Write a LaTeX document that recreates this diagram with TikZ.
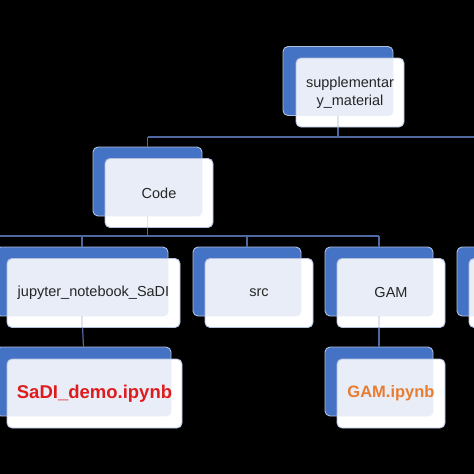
\documentclass[tikz,border=0pt]{standalone}
\usepackage{fontspec}
\setmainfont{Liberation Sans}
\begin{document}
\begin{tikzpicture}[x=1pt,y=-1pt,
  backbox/.style={draw=boxline, line width=0.9pt, fill=backblue, rounded corners=5pt, minimum height=69pt, inner sep=0pt},
  frontbox/.style={draw=boxline, line width=0.9pt, fill=white, rounded corners=5pt, minimum height=69pt, inner sep=0pt, font=\fontsize{14.5}{18}\selectfont, text=black!85, align=center,
    path picture={\fill[backblue, opacity=0.12, rounded corners=5pt] (#1.south west) rectangle (#1.north east);}},
  conn/.style={draw=connblue, line width=1.2pt},
  faint/.style={draw=connblue, line width=1.1pt, opacity=0.18}]
\definecolor{backblue}{RGB}{68,114,196}
\definecolor{boxline}{RGB}{178,192,222}
\definecolor{connblue}{RGB}{80,104,160}
\definecolor{sadired}{RGB}{222,28,30}
\definecolor{gamorange}{RGB}{232,125,50}
\useasboundingbox (0,0) rectangle (474,474);
\fill[black] (0,0) rectangle (474,474);
% bus coordinates
\coordinate (bus1) at (0,137);
\coordinate (bus2) at (0,236);
\coordinate (bus1r) at (474,137);
\coordinate (bus2l) at (0,236);
% back boxes
\node[backbox, minimum width=110pt] (supB) at (338,81) {};
\node[backbox, minimum width=109pt] (codeB) at (147.5,181.5) {};
\node[backbox, minimum width=172pt] (jupB) at (82,281.5) {};
\node[backbox, minimum width=108pt] (srcB) at (247,281.5) {};
\node[backbox, minimum width=108pt] (gamB) at (379,281.5) {};
\node[backbox, minimum width=108pt] (extB) at (511,281.5) {};
\node[backbox, minimum width=175pt] (sadiB) at (83.5,381.5) {};
\node[backbox, minimum width=108pt] (gamnbB) at (379,381.5) {};
% connectors
\draw[conn] (supB.south) -- (supB.south |- bus1);
\draw[conn] (codeB.north |- bus1) -- (bus1r);
\draw[conn] (codeB.north |- bus1) -- (codeB.north);
\draw[conn] (codeB.south) -- (codeB.south |- bus2);
\draw[conn] (bus2l) -- (gamB.north |- bus2);
\draw[conn] (jupB.north |- bus2) -- (jupB.north);
\draw[conn] (srcB.north |- bus2) -- (srcB.north);
\draw[conn] (gamB.north |- bus2) -- (gamB.north);
\draw[conn] (jupB.south) -- (sadiB.north);
\draw[conn] (gamB.south) -- (gamnbB.north);
% front boxes
\node[frontbox=supB, minimum width=108pt] (sup) at (350,92.5) {supplementar\\y\_material};
\node[frontbox=codeB, minimum width=108pt] (code) at (159,193) {Code};
\node[frontbox=jupB, minimum width=173pt] (jup) at (93.5,293) {jupyter\_notebook\_SaDI};
\node[frontbox=srcB, minimum width=108pt] (src) at (259,293) {src};
\node[frontbox=gamB, minimum width=108pt] (gam) at (391,293) {GAM};
\node[frontbox=extB, minimum width=108pt] (ext) at (523,293) {};
\node[frontbox=sadiB, minimum width=175pt, font=\fontsize{18.5}{20}\selectfont\bfseries, text=sadired] (sadi) at (94.5,393.5) {SaDI\_demo.ipynb};
\node[frontbox=gamnbB, minimum width=108pt, font=\fontsize{16.5}{20}\selectfont\bfseries, text=gamorange] (gamnb) at (391,393.5) {GAM.ipynb};
% faint connector traces seen through the front boxes
\draw[faint] (supB.south) -- (supB.south |- sup.south);
\draw[faint] (codeB.south) -- (codeB.south |- code.south);
\draw[faint] (jupB.south) -- (jupB.south |- jup.south);
\draw[faint] (gamB.south) -- (gamB.south |- gam.south);
\end{tikzpicture}
\end{document}
